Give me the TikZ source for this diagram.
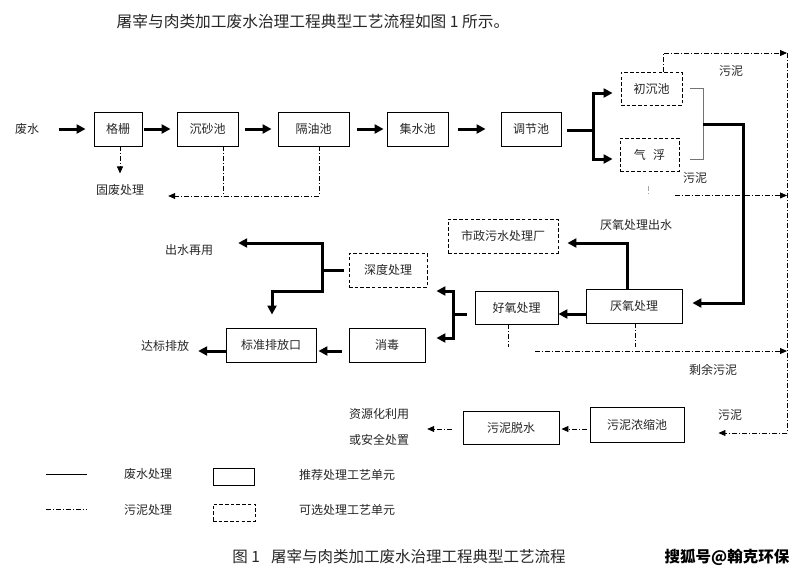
\documentclass[tikz,border=0pt]{standalone}
\usepackage{fontspec}
\setmainfont{Noto Sans CJK SC}
\usetikzlibrary{arrows.meta,calc}
\begin{document}
\begin{tikzpicture}[x=1pt,y=-1pt,
  txt/.style={inner sep=0pt, font=\fontsize{12}{14}\selectfont, text=black!85},
  box/.style={draw, line width=0.9pt, inner sep=0pt, font=\fontsize{12}{14}\selectfont, text=black!85},
  optbox/.style={box, dash pattern=on 3.5pt off 2.2pt},
  flow/.style={line width=3pt, -{Triangle[length=9pt,width=9pt]}},
  flowline/.style={line width=3pt},
  sludgeline/.style={line width=0.8pt, dash pattern=on 5pt off 2pt on 1pt off 2pt},
  sludge/.style={sludgeline, -{Triangle[length=7pt,width=6pt]}},
  bracket/.style={line width=0.9pt, black!55},
]
\useasboundingbox (0,0) rectangle (810,576);

% intro sentence
\node[txt, font=\fontsize{15.7}{18}\selectfont] (intro) at (313,22) {屠宰与肉类加工废水治理工程典型工艺流程如图 1 所示。};

% row 1
\node[txt] (fs) at (27,129) {废水};
\node[box, minimum width=48pt, minimum height=34pt] (gs) at (118,129) {格栅};
\node[box, minimum width=61pt, minimum height=34pt] (cs) at (207.5,129) {沉砂池};
\node[box, minimum width=71pt, minimum height=34pt] (gy) at (313.5,129) {隔油池};
\node[box, minimum width=61pt, minimum height=34pt] (js) at (417.5,129) {集水池};
\node[box, minimum width=60pt, minimum height=34pt] (tj) at (531,129) {调节池};
\node[optbox, minimum width=61pt, minimum height=33pt] (cc) at (651.5,88.5) {初沉池};
\node[optbox, minimum width=59pt, minimum height=33pt] (qf) at (649.5,154.5) {气\hspace{0.6em}浮};
\node[txt] (gf) at (120,190) {固废处理};
\node[txt] (wn1) at (731,71) {污泥};
\node[txt] (wn2) at (695,178) {污泥};

% middle
\node[optbox, minimum width=110pt, minimum height=34pt] (sz) at (503,236) {市政污水处理厂};
\node[txt] (yc) at (636,225) {厌氧处理出水};
\node[box, minimum width=96pt, minimum height=34pt] (yy) at (634,306) {厌氧处理};
\node[box, minimum width=83pt, minimum height=33pt] (hy) at (516.5,307.5) {好氧处理};
\node[optbox, minimum width=78pt, minimum height=34pt] (sd) at (388,270) {深度处理};
\node[box, minimum width=76pt, minimum height=34pt] (xd) at (387,345) {消毒};
\node[box, minimum width=90pt, minimum height=34pt] (bz) at (271,345) {标准排放口};
\node[txt] (cy) at (189,250) {出水再用};
\node[txt] (db) at (165,346) {达标排放};
\node[txt] (sy) at (713,370) {剩余污泥};

% bottom sludge line
\node[box, minimum width=94pt, minimum height=35pt] (ns) at (637,424.5) {污泥浓缩池};
\node[box, minimum width=96pt, minimum height=33pt] (tw) at (511,427.5) {污泥脱水};
\node[txt] (zy) at (379,414) {资源化利用};
\node[txt] (aq) at (379,440) {或安全处置};
\node[txt] (wn3) at (730,415) {污泥};

% legend
\coordinate (l1a) at (46,474); \coordinate (l1b) at (87,474);
\coordinate (l2a) at (46,509); \coordinate (l2b) at (87,509);
\draw[line width=1pt] (l1a) -- (l1b);
\draw[sludgeline] (l2a) -- (l2b);
\node[txt] (lg1) at (148,474) {废水处理};
\node[txt] (lg2) at (148,510) {污泥处理};
\node[box, minimum width=41pt, minimum height=17pt] (lb1) at (233.5,476.5) {};
\node[optbox, minimum width=42pt, minimum height=17pt] (lb2) at (234,512.5) {};
\node[txt] (lg3) at (347,475) {推荐处理工艺单元};
\node[txt] (lg4) at (347,510) {可选处理工艺单元};

% caption and watermark
\node[txt, font=\fontsize{15.5}{17}\selectfont] (cap) at (399,557) {图 1\hspace{0.5em} 屠宰与肉类加工废水治理工程典型工艺流程};
\node[txt, font=\fontsize{15.5}{17}\selectfont\bfseries, text=black] (wm) at (727,557) {搜狐号@翰克环保};

% ---- wastewater flow ----
\draw[flow] ($(gs.west)+(-35,0)$) -- ($(gs.west)+(-8,0)$);
\draw[flow] ($(gs.east)+(2,0)$) -- ($(cs.west)+(-6,0)$);
\draw[flow] ($(cs.east)+(7,0)$) -- ($(gy.west)+(-6,0)$);
\draw[flow] ($(gy.east)+(8,0)$) -- ($(js.west)+(-3,0)$);
\draw[flow] ($(js.east)+(10,0)$) -- ($(tj.west)+(-15,0)$);
\coordinate (br) at ($(tj.east)+(32,1)$);
\draw[flowline] ($(tj.east)+(6,1)$) -- (br);
\draw[flow] (br) |- ($(cc.west)+(-8,4.5)$);
\draw[flow] (br) |- ($(qf.west)+(-7,4.5)$);
\draw[bracket] ($(cc.east)+(8,0)$) -- ($(cc.east)+(21,0)$) -- ($(qf.east)+(24,4.5)$) -- ($(qf.east)+(11,4.5)$);
\coordinate (mj) at ($(cc.east)+(21,35.5)$);
\draw[flow] (mj) -- ++(40,0) |- ($(yy.east)+(10,-3)$);
\draw[flow] ($(yy.north)+(-7,0)$) |- ($(sz.east)+(9,7)$);
\draw[flow] ($(yy.west)+(0,8)$) -- ($(hy.east)+(0,6.5)$);
\coordinate (hs) at ($(hy.west)+(-21,6.5)$);
\draw[flowline] ($(hy.west)+(-8,6.5)$) -- (hs);
\draw[flow] (hs) |- ($(sd.east)+(9,21)$);
\draw[flow] (hs) |- ($(xd.east)+(11,-7)$);
\coordinate (ss) at ($(sd.west)+(-26,0)$);
\draw[flowline] ($(sd.west)+(-5,0)$) -- (ss);
\draw[flow] (ss) |- ($(cy.east)+(25,-7)$);
\draw[flow] (ss) -- ++(0,21) -| ($(bz.north)+(1,-13)$);
\draw[flow] ($(xd.west)+(-7,6)$) -- ($(bz.east)+(2,6)$);
\draw[flow] ($(bz.west)+(0,6)$) -- ($(db.east)+(9,5)$);

% ---- sludge flow ----
\draw[sludge] ($(gs.south)+(2,0)$) -- ($(gs.south)+(2,27)$);
\draw[sludgeline] ($(cs.south)+(15.5,0)$) -- ($(cs.south)+(15.5,50)$);
\draw[sludge] ($(gy.south)+(5.5,0)$) |- ($(gf.east)+(24,6)$);
\coordinate (rt) at (787,53);
\coordinate (rb) at (787,433);
\draw[sludge] ($(cc.north)+(11.5,0)$) |- (rt);
\draw[sludgeline] (rt) -- (rb);
\draw[sludge] (rb) -- ($(ns.east)+(34,8.5)$);
\coordinate (q1) at ($(qf.south)+(25.5,24)$);
\draw[sludge] (q1) -- (q1 -| rt);
\draw[sludgeline, black!35] ($(qf.south)+(-1.5,15)$) -- ($(qf.south)+(-1.5,24)$);
\draw[sludgeline] ($(hy.south)+(-8.5,0)$) -- ($(hy.south)+(-8.5,23)$);
\draw[sludgeline] ($(yy.south)+(1,0)$) -- ($(yy.south)+(1,24)$);
\coordinate (sl) at (535,351);
\draw[sludge] (sl) -- (sl -| rt);
\draw[sludge] ($(ns.west)+(-3,4.5)$) -- ($(tw.east)+(2,1.5)$);
\draw[sludge] ($(tw.west)+(-11,1.5)$) -- ($(zy.east)+(18,15)$);
\end{tikzpicture}
\end{document}
